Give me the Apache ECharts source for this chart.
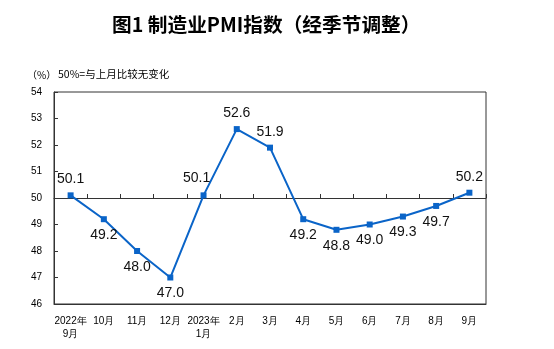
<!DOCTYPE html>
<html><head><meta charset="utf-8">
<script src="https://cdn.jsdelivr.net/npm/echarts@6/dist/echarts.min.js"></script>
<style>html,body{margin:0;padding:0;background:#fff}#c{width:554px;height:349px}</style>
</head><body><div id="c"></div>
<script>
const categories = ['2022年\n9月','10月','11月','12月','2023年\n1月','2月','3月','4月','5月','6月','7月','8月','9月'];
const pmiValues = [50.1, 49.2, 48.0, 47.0, 50.1, 52.6, 51.9, 49.2, 48.8, 49.0, 49.3, 49.7, 50.2];
const yTicks = [46, 47, 48, 49, 50, 51, 52, 53, 54];

// label placement (style only)
const labelAboveIdx = [0, 4, 5, 6, 12];
const labelOffsets = {4: [-7, -1]};

const chart = echarts.init(document.getElementById('c'), null, {renderer: 'canvas'});
const gridTop = 92, gridH = 212;
const yMin = yTicks[0], yMax = yTicks[yTicks.length - 1];
const y50off = -(gridH * (50 - yMin) / (yMax - yMin));

const seriesData = pmiValues.map((v, i) => {
  const above = labelAboveIdx.includes(i);
  return {
    value: v,
    label: {
      position: above ? 'top' : 'bottom',
      distance: 6,
      offset: labelOffsets[i] || [0, 0]
    }
  };
});

chart.setOption({
  animation: false,
  title: {
    text: '图1 制造业PMI指数（经季节调整）',
    left: 107, top: 10,
    textStyle: {fontFamily: 'Noto Sans CJK SC', fontSize: 19.7, fontWeight: 'bold', color: '#000'}
  },
  graphic: [
    {type: 'text', left: 27, top: 70, style: {text: '（%）', font: '10px "Noto Sans CJK SC"', fill: '#000'}},
    {type: 'text', left: 58, top: 69, style: {text: '50%=与上月比较无变化', font: '10.5px "Noto Sans CJK SC"', fill: '#000'}}
  ],
  grid: {left: 54, right: 68, top: gridTop, height: gridH, show: true, borderColor: '#333', borderWidth: 1, backgroundColor: 'transparent'},
  xAxis: [
    {
      type: 'category', data: categories, position: 'bottom', boundaryGap: true,
      axisLine: {show: true, onZero: false, lineStyle: {color: '#333'}},
      axisTick: {show: false},
      axisLabel: {interval: 0, margin: 11, fontFamily: 'Liberation Sans Narrow, Liberation Sans', fontSize: 10, color: '#000', lineHeight: 13}
    },
    {
      type: 'category', data: categories, position: 'bottom', offset: y50off, boundaryGap: true,
      axisLine: {show: true, onZero: false, lineStyle: {color: '#333'}},
      axisTick: {show: true, inside: true, length: 4, interval: 0, lineStyle: {color: '#333'}},
      axisLabel: {show: false}
    }
  ],
  yAxis: {
    type: 'value', min: yMin, max: yMax, interval: 1,
    axisLine: {show: true, lineStyle: {color: '#333'}},
    axisTick: {show: true, inside: true, length: 4, lineStyle: {color: '#333'}},
    splitLine: {show: false},
    axisLabel: {margin: 12, fontFamily: 'Liberation Sans Narrow, Liberation Sans', fontSize: 10, color: '#000'}
  },
  series: [{
    type: 'line', xAxisIndex: 0, data: seriesData,
    symbol: 'rect', symbolSize: 6,
    lineStyle: {color: '#0a64c8', width: 2},
    itemStyle: {color: '#0a64c8'},
    label: {show: true, formatter: p => p.value.toFixed(1), fontFamily: 'Liberation Sans, Arial', fontSize: 14, color: '#111'}
  }]
});
</script></body></html>
